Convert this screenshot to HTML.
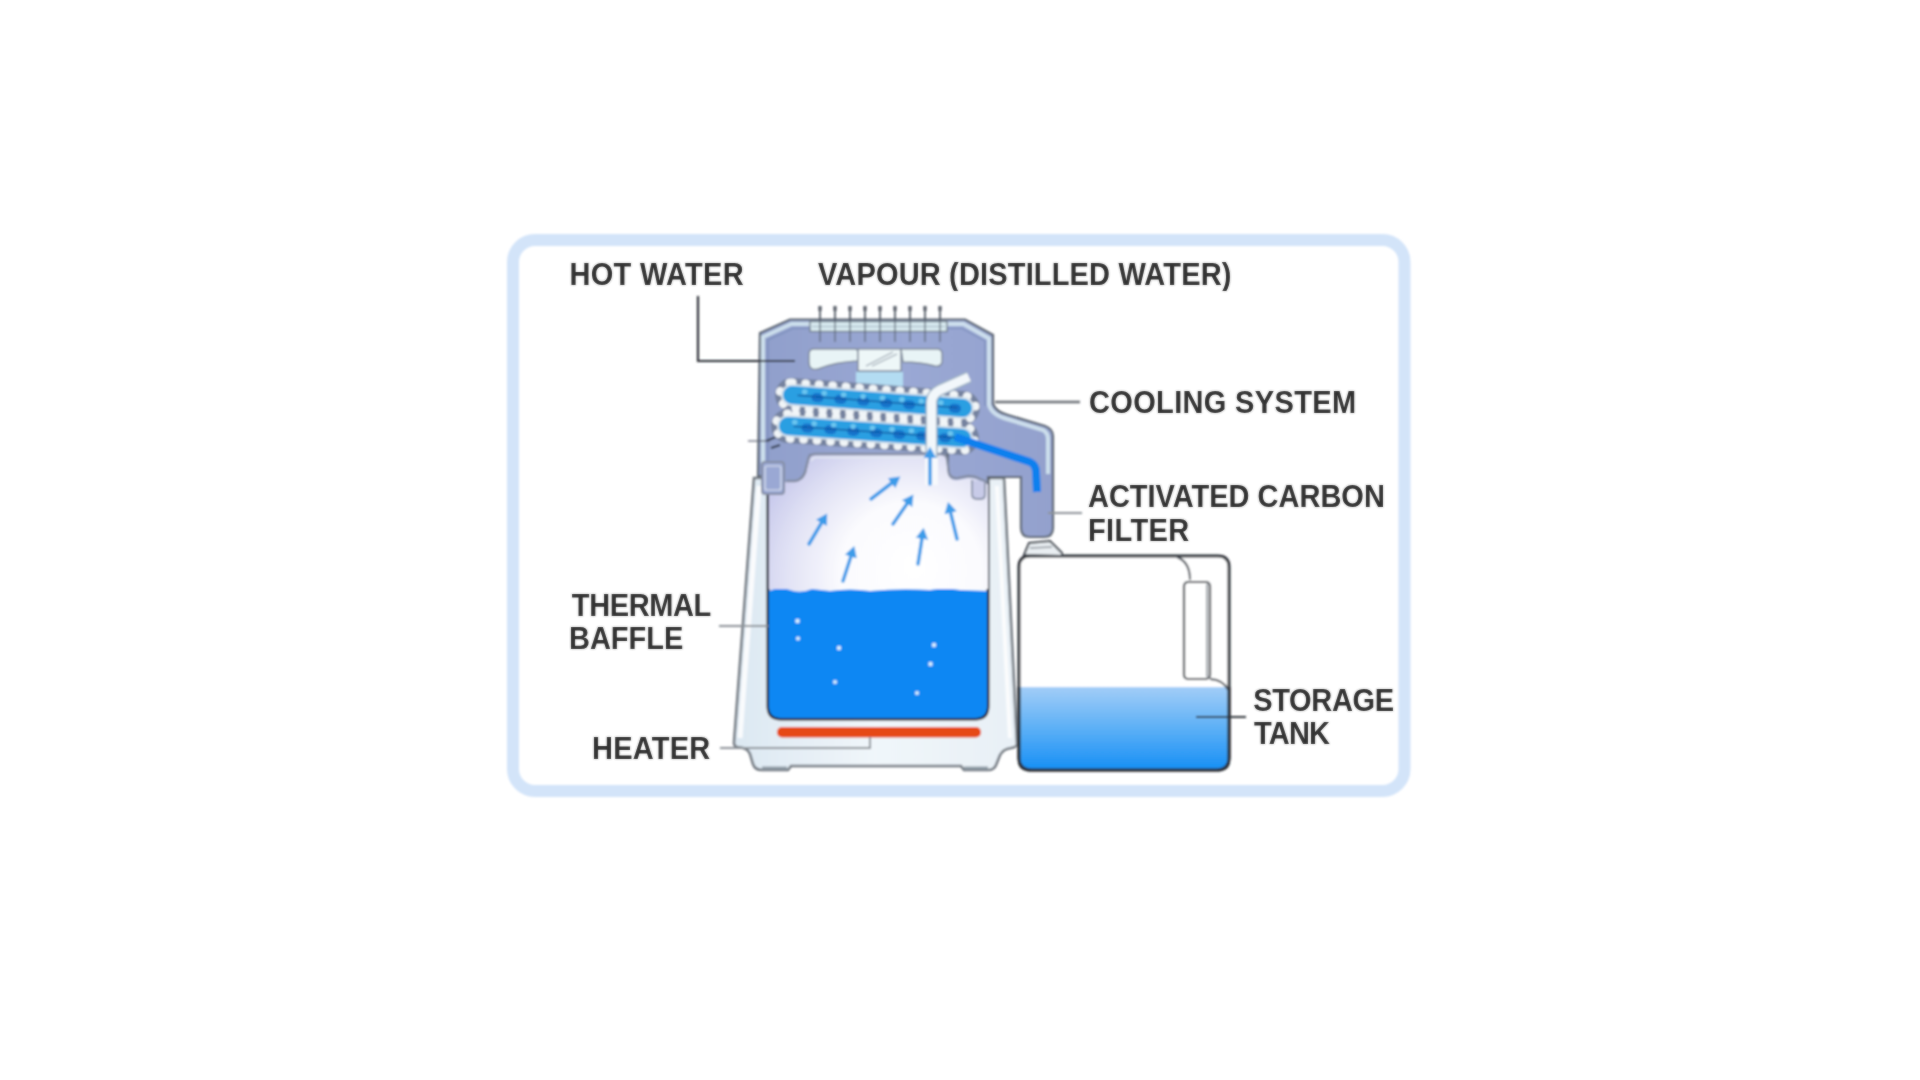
<!DOCTYPE html>
<html>
<head>
<meta charset="utf-8">
<style>
html,body{margin:0;padding:0;background:#ffffff;width:1920px;height:1080px;overflow:hidden;}
svg{position:absolute;left:0;top:0;}
.lbl{font-family:"Liberation Sans",sans-serif;font-weight:bold;font-size:29px;fill:#303030;}
</style>
</head>
<body>
<svg width="1920" height="1080" viewBox="0 0 1920 1080">
<defs>
  <linearGradient id="chamberG" x1="0" y1="0" x2="0" y2="1">
    <stop offset="0" stop-color="#c9ccee"/>
    <stop offset="0.45" stop-color="#eceefa"/>
    <stop offset="1" stop-color="#ffffff"/>
  </linearGradient>
  <radialGradient id="chamberR" cx="905" cy="585" r="175" fx="915" fy="565" gradientUnits="userSpaceOnUse">
    <stop offset="0" stop-color="#ffffff"/>
    <stop offset="0.4" stop-color="#fbfbfe"/>
    <stop offset="0.72" stop-color="#dfe0f4"/>
    <stop offset="1" stop-color="#bfc1e9"/>
  </radialGradient>
  <linearGradient id="housingG" x1="0" y1="0" x2="1" y2="0">
    <stop offset="0" stop-color="#909fcb"/>
    <stop offset="0.5" stop-color="#9aa8d4"/>
    <stop offset="1" stop-color="#93a1cd"/>
  </linearGradient>
  <filter id="tblur" x="-2%" y="-10%" width="104%" height="120%"><feGaussianBlur in="SourceGraphic" stdDeviation="1" result="b"/><feComposite in="b" in2="SourceGraphic" operator="arithmetic" k1="0" k2="0.5" k3="0.5" k4="0"/></filter>
  <filter id="soft2" x="-2%" y="-2%" width="104%" height="104%"><feGaussianBlur stdDeviation="1.3"/></filter>
  <linearGradient id="tankG" x1="0" y1="0" x2="0" y2="1">
    <stop offset="0" stop-color="#a2cdf8"/>
    <stop offset="0.5" stop-color="#5db0f6"/>
    <stop offset="1" stop-color="#1890f5"/>
  </linearGradient>
  <linearGradient id="bodyG" x1="0" y1="0" x2="1" y2="0">
    <stop offset="0" stop-color="#dce8f2"/>
    <stop offset="0.5" stop-color="#f0f6fa"/>
    <stop offset="1" stop-color="#e8f0f6"/>
  </linearGradient>
  <marker id="ah" markerWidth="4" markerHeight="4" refX="2" refY="2" orient="auto" markerUnits="strokeWidth"><path d="M0 0.2 L3.2 2 L0 3.8 Z" fill="#3e9ce9" stroke="none"/></marker>
  <filter id="soft" x="-5%" y="-5%" width="110%" height="110%"><feGaussianBlur stdDeviation="1"/></filter>
</defs>

<!-- frame -->
<rect x="513" y="240" width="891.5" height="551" rx="22" ry="22" fill="none" stroke="#d3e4f9" stroke-width="12" filter="url(#soft2)"/>

<g filter="url(#soft)">
<!-- outer body trapezoid -->
<path d="M754 478 L1004 478 L1017 744 Q1017 747 1011 748 Q1003 749 1000 755 L996 765 Q994 770 988 770 L964 770 L961 766 L791 766 L788 770 L762 770 Q755 770 753 764 L750 754 Q748 749 743 748 L737 747 Q734 746 734 743 Z" fill="url(#bodyG)" stroke="#737a82" stroke-width="2.6"/>
<path d="M762 768 L787 768 M964 768 L988 768" stroke="#8f9ba6" stroke-width="3"/>

<path d="M759 486 L740 738" stroke="#ffffff" stroke-width="5" opacity="0.85"/>
<path d="M997 486 L1010 738" stroke="#ffffff" stroke-width="4" opacity="0.85"/>
<!-- inner container -->
<path d="M768 470 L988 470 L988 706 Q988 719 975 719 L781 719 Q768 719 768 706 Z" fill="url(#chamberR)" stroke="#1c2432" stroke-width="3"/>
<!-- water -->
<path d="M769 591 Q780 586 790 590 Q800 594 812 589 L830 591 Q850 588 870 591 Q900 588 930 590 Q945 587 960 590 L987 591 L987 706 Q987 718 975 718 L781 718 Q769 718 769 706 Z" fill="#0c87f3"/>

<!-- heater -->
<rect x="777" y="727" width="204" height="10.5" rx="5" fill="#e64a14"/>

<!-- housing -->
<path d="M760 333 L790 319.5 L965 319.5 L993 335 L993 404 Q996 412 1008 415 L1045 426 Q1053 429 1053 436 L1053 528 Q1053 537 1044 537 L1030 537 Q1021 537 1021 528 L1021 477 L988 477 L988 482 L975 486 L960 486 L948 478 L948 455 L810 455 L808 470 L796 486 L786 486 L770 476 L758 476 Z" fill="url(#housingG)" stroke="#5f6873" stroke-width="2.2"/>
<!-- housing inner highlight -->
<path d="M763 472 L763 337 L791.5 324 L963.5 324 L989 338.5 L989 405 Q992 415 1007 419 L1043 430 Q1048 433 1048 439 L1048 474" fill="none" stroke="#d3e6f0" stroke-width="4" opacity="0.9"/>
<path d="M768 472 L768 340 L793 328.5 L962 328.5 L985 341 L985 406" fill="none" stroke="#6f83b0" stroke-width="1.2" opacity="0.7"/>

<!-- chamber top (lavender-to-white) -->
<path d="M769 494 L769 589 L988 589 L988 484 L980 481 Q975 478 968 478 L958 480 Q950 481 948 474 L946 459 Q945 455 941 455 L815 455 Q810 455 809 460 L806 473 Q803 481 795 482 L785 482 L785 494 Z" fill="url(#chamberR)"/>
<path d="M988 482 L980 479 Q975 476 968 476 L958 478 Q951 479 949 473 L947 459 Q946 454 941 454 L815 454 Q809 454 808 460 L805 472 Q802 480 795 481 L786 481" fill="none" stroke="#858ea4" stroke-width="2.4"/>
<path d="M941 457.5 L815 457.5 Q812 458 811.5 461" fill="none" stroke="#e4e9f2" stroke-width="1.6"/>
<!-- left lip & lock -->
<rect x="762" y="462" width="22" height="32" rx="3" fill="#9aa8d4" stroke="#858ea4" stroke-width="2"/>
<rect x="765" y="466" width="16" height="24" rx="2" fill="none" stroke="#dfe6ef" stroke-width="1.2"/>
<path d="M766 441 L776 437 M771 448 L780 445" stroke="#2f3a4c" stroke-width="2.2"/>
<path d="M748 441 L770 441" stroke="#5a6270" stroke-width="1.2"/>
<!-- right hook -->
<path d="M972 480 L972 494 Q972 499 977 499 L981 499 Q985 499 985 494 L985 482" fill="#c8cbe8" stroke="#8a93a8" stroke-width="1.8"/>
<!-- grille -->
<rect x="810" y="321.5" width="137" height="10" fill="#d8eaf0" stroke="#6f7b88" stroke-width="1.3"/>
<line x1="812" y1="326.5" x2="945" y2="326.5" stroke="#9fb0bf" stroke-width="1"/>
<g stroke="#4a525c" stroke-width="1.7"><line x1="820" y1="307" x2="820" y2="320"/><line x1="835" y1="307" x2="835" y2="320"/><line x1="850" y1="307" x2="850" y2="320"/><line x1="865" y1="307" x2="865" y2="320"/><line x1="880" y1="307" x2="880" y2="320"/><line x1="895" y1="307" x2="895" y2="320"/><line x1="910" y1="307" x2="910" y2="320"/><line x1="925" y1="307" x2="925" y2="320"/><line x1="940" y1="307" x2="940" y2="320"/></g>
<g stroke="#56606e" stroke-width="1.5" opacity="0.75"><line x1="820" y1="320" x2="820" y2="342"/><line x1="835" y1="320" x2="835" y2="342"/><line x1="850" y1="320" x2="850" y2="342"/><line x1="865" y1="320" x2="865" y2="342"/><line x1="880" y1="320" x2="880" y2="342"/><line x1="895" y1="320" x2="895" y2="342"/><line x1="910" y1="320" x2="910" y2="342"/><line x1="925" y1="320" x2="925" y2="342"/><line x1="940" y1="320" x2="940" y2="342"/></g>
<g fill="#555c66"><rect x="818.4" y="306" width="3.2" height="5"/><rect x="833.4" y="306" width="3.2" height="5"/><rect x="848.4" y="306" width="3.2" height="5"/><rect x="863.4" y="306" width="3.2" height="5"/><rect x="878.4" y="306" width="3.2" height="5"/><rect x="893.4" y="306" width="3.2" height="5"/><rect x="908.4" y="306" width="3.2" height="5"/><rect x="923.4" y="306" width="3.2" height="5"/><rect x="938.4" y="306" width="3.2" height="5"/></g>

<!-- fan blobs -->
<rect x="856" y="372" width="47" height="20" fill="#b3dcf2"/>
<path d="M814 349 L855 349 Q858 349 858 353 L858 361 Q835 362 818 369 Q809 371 809 362 L809 354 Q809 349 814 349 Z" fill="#e8f4f6" stroke="#7d8898" stroke-width="1.4"/>
<rect x="858" y="349" width="43" height="22" fill="#eef7f8" stroke="#7d8898" stroke-width="1.4"/>
<path d="M866 366 L893 352 M872 366 L897 354" stroke="#9aa4b0" stroke-width="1.2"/>
<path d="M901 349 L937 349 Q942 349 942 354 L942 362 Q941 367 935 366 Q920 362 903 362 Z" fill="#e8f4f6" stroke="#7d8898" stroke-width="1.4"/>

<!-- coil rows -->
<g stroke-linecap="round" fill="none">
  <line x1="792" y1="395" x2="963" y2="408" stroke="#75829f" stroke-width="34"/>
  <line x1="788" y1="426" x2="962" y2="438" stroke="#75829f" stroke-width="34"/>
  <path d="M792 382.5 L963 395.5 A12.5 12.5 0 0 1 963 420.5 L792 407.5 A12.5 12.5 0 0 1 792 382.5 Z" stroke="#f1f5f8" stroke-width="8" stroke-dasharray="0.5 13" stroke-dashoffset="0"/>
  <path d="M788 413.5 L962 425.5 A12.5 12.5 0 0 1 962 450.5 L788 438.5 A12.5 12.5 0 0 1 788 413.5 Z" stroke="#f1f5f8" stroke-width="8" stroke-dasharray="0.5 13" stroke-dashoffset="6"/>
  <line x1="792" y1="395" x2="963" y2="408" stroke="#d9e3ec" stroke-width="22"/>
  <line x1="792" y1="395" x2="963" y2="408" stroke="#2a9fe2" stroke-width="18"/>
  <line x1="796" y1="396" x2="963" y2="409" stroke="#1673cb" stroke-width="9" stroke-dasharray="3 20" stroke-dashoffset="3"/>
  <line x1="796" y1="391" x2="957" y2="404" stroke="#6cc6f0" stroke-width="5" stroke-dasharray="0.5 19" stroke-dashoffset="11"/>
  <line x1="798" y1="395.3" x2="957" y2="407.7" stroke="#0c4f98" stroke-width="1.2"/>
  <line x1="788" y1="426" x2="962" y2="438" stroke="#d9e3ec" stroke-width="22"/>
  <line x1="788" y1="426" x2="962" y2="438" stroke="#2a9fe2" stroke-width="18"/>
  <line x1="792" y1="427" x2="962" y2="439" stroke="#1673cb" stroke-width="9" stroke-dasharray="3 20" stroke-dashoffset="9"/>
  <line x1="792" y1="422" x2="956" y2="434" stroke="#6cc6f0" stroke-width="5" stroke-dasharray="0.5 19" stroke-dashoffset="17"/>
  <line x1="794" y1="426.3" x2="956" y2="437.7" stroke="#0c4f98" stroke-width="1.2"/>
</g>

<!-- blue tube to filter -->
<path d="M955 437 L1030 462 Q1036 465 1036 472 L1037 492" fill="none" stroke="#0b80ee" stroke-width="8"/>

<!-- white vapour tube -->
<path d="M931.5 484 L931.5 402 Q932 394 940 390 L969 377" fill="none" stroke="#9fb3c6" stroke-width="12" stroke-linecap="butt"/>
<path d="M931.5 484 L931.5 402 Q932 394 940 390 L969 377" fill="none" stroke="#f2f7fb" stroke-width="9" stroke-linecap="butt"/>
<rect x="925" y="458" width="13" height="27" fill="#f7f9fd"/>

<!-- arrows -->
<g stroke="#3e9ce9" stroke-width="3.5" fill="none" stroke-linecap="round" marker-end="url(#ah)">
  <line x1="809" y1="544" x2="825" y2="517"/><line x1="843" y1="581" x2="853" y2="550"/>
  <line x1="871" y1="499" x2="897" y2="479"/><line x1="893" y1="524" x2="911" y2="498"/>
  <line x1="918" y1="564" x2="923" y2="532"/><line x1="930" y1="484" x2="930" y2="451"/>
  <line x1="957" y1="539" x2="949" y2="506"/>
</g>
<!-- bubbles -->
<g fill="#d9efff">
  <circle cx="797.5" cy="621" r="2.3"/><circle cx="798" cy="638.5" r="2"/><circle cx="839" cy="648" r="2.2"/>
  <circle cx="835" cy="682" r="2"/><circle cx="934" cy="645" r="2.2"/><circle cx="930.5" cy="664" r="2.2"/><circle cx="917" cy="693" r="2"/>
</g>
<!-- storage tank -->
<path d="M1030 556 L1218 556 Q1229 556 1229 567 L1229 758 Q1229 770 1217 770 L1031 770 Q1019 770 1019 758 L1019 567 Q1019 556 1030 556 Z" fill="#ffffff" stroke="#2e3339" stroke-width="3"/>
<path d="M1020 687 L1228 687 L1228 758 Q1228 769 1217 769 L1031 769 Q1020 769 1020 758 Z" fill="url(#tankG)"/>
<path d="M1019 687 L1019 758 Q1019 770 1031 770 L1217 770 Q1229 770 1229 758 L1229 687" fill="none" stroke="#2a2f36" stroke-width="3.2"/>
<!-- handle -->
<path d="M1177 557 Q1190 562 1190 580" fill="none" stroke="#444a52" stroke-width="2"/>
<rect x="1184" y="582" width="26" height="97" rx="4" fill="#ffffff" stroke="#3c4249" stroke-width="2.2"/>
<path d="M1207 584 L1207 677" stroke="#9aa0a6" stroke-width="2"/>
<path d="M1210 679 Q1224 680 1228 690" fill="none" stroke="#444a52" stroke-width="2"/>
<!-- nozzle -->
<path d="M1024 555 L1029 543 L1050 541 L1062 553 L1062 556 Z" fill="#e9eef2" stroke="#3f454d" stroke-width="2"/>
<path d="M1030 548 L1052 547" stroke="#8d949c" stroke-width="1.5"/>

<!-- leader lines -->
<g stroke="#3a3f46" stroke-width="2" fill="none">
  <path d="M698 296 L698 361 L795 361" stroke="#2b2f35" stroke-width="2.2"/>
  <line x1="995" y1="402" x2="1080" y2="402" stroke="#6a6e74" stroke-width="2.6"/>
  <line x1="1048" y1="513" x2="1082" y2="513" stroke="#8d9399"/>
  <line x1="719" y1="626" x2="768" y2="626" stroke="#8d9399"/>
  <path d="M720 748 L870 748 L870 737" stroke="#8d9399"/>
  <line x1="1196" y1="717" x2="1246" y2="717" stroke="#33373d" stroke-width="2.2"/>
</g>
</g>

<!-- labels -->
<g filter="url(#tblur)">
<text class="lbl" style="letter-spacing:0.3px" transform="translate(569.5 284.5) scale(1 1.05)">HOT WATER</text>
<text class="lbl" style="letter-spacing:0.17px" transform="translate(818 284.5) scale(1 1.05)">VAPOUR (DISTILLED WATER)</text>
<text class="lbl" style="letter-spacing:0.35px" transform="translate(1089 413) scale(1 1.05)">COOLING SYSTEM</text>
<text class="lbl" style="letter-spacing:0px" transform="translate(1088 507) scale(1 1.05)">ACTIVATED CARBON</text>
<text class="lbl" style="letter-spacing:0.4px" transform="translate(1088 540.5) scale(1 1.05)">FILTER</text>
<text class="lbl" style="letter-spacing:-0.38px" transform="translate(571.8 615.5) scale(1 1.05)">THERMAL</text>
<text class="lbl" style="letter-spacing:0px" transform="translate(569 649) scale(1 1.05)">BAFFLE</text>
<text class="lbl" style="letter-spacing:0.25px" transform="translate(592 759) scale(1 1.05)">HEATER</text>
<text class="lbl" style="letter-spacing:-0.3px" transform="translate(1253.2 711) scale(1 1.05)">STORAGE</text>
<text class="lbl" style="letter-spacing:-0.8px" transform="translate(1254 743.5) scale(1 1.05)">TANK</text>
</g>
</svg>
</body>
</html>
